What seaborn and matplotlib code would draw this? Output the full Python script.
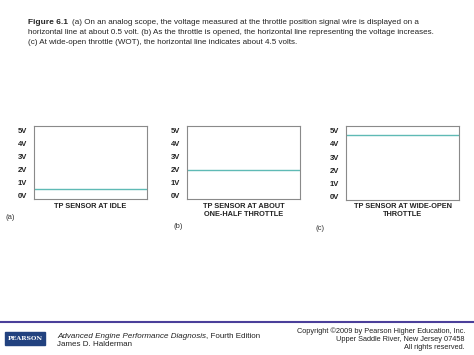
import matplotlib
matplotlib.use("Agg")
import matplotlib.pyplot as plt
import seaborn as sns
import pandas as pd

# data
panel_tags = ["(a)", "(b)", "(c)"]
panel_titles = ["TP SENSOR AT IDLE", "TP SENSOR AT ABOUT\nONE-HALF THROTTLE", "TP SENSOR AT WIDE-OPEN\nTHROTTLE"]
volts = [0.5, 2.0, 4.7]
sweep = [0, 1]
ytick_vals = [0, 1, 2, 3, 4, 5]
ytick_labels = ["0V", "1V", "2V", "3V", "4V", "5V"]

caption_lines = [
    "(a) On an analog scope, the voltage measured at the throttle position signal wire is displayed on a",
    "horizontal line at about 0.5 volt. (b) As the throttle is opened, the horizontal line representing the voltage increases.",
    "(c) At wide-open throttle (WOT), the horizontal line indicates about 4.5 volts.",
]

sns.set_style("white")
plt.rcParams['font.family'] = ['Liberation Sans', 'DejaVu Sans']

W, H = 474, 355
fig = plt.figure(figsize=(W / 100, H / 100), dpi=100)

def px(l, t, r, b):
    return [l / W, 1 - b / H, (r - l) / W, (b - t) / H]

# caption
fig.text(28 / W, 1 - 23 / H, "Figure 6.1", fontsize=6, fontweight="bold", va="center")
fig.text(72 / W, 1 - 23 / H, caption_lines[0], fontsize=5.8, va="center", color="#222222")
fig.text(28 / W, 1 - 33 / H, caption_lines[1], fontsize=5.8, va="center", color="#222222")
fig.text(28 / W, 1 - 43 / H, caption_lines[2], fontsize=5.8, va="center", color="#222222")

boxes = [(34, 126, 147, 199), (187, 126, 300, 199), (346, 126, 459, 200)]
tag_pos = [(5, 218), (173, 226), (316, 228)]

for i in range(3):
    ax = fig.add_axes(px(*boxes[i]))
    df = pd.DataFrame({"t": sweep, "v": [volts[i]] * len(sweep)})
    sns.lineplot(data=df, x="t", y="v", ax=ax, color="#5fbab5", linewidth=1.0)
    ax.set_xlim(0, 1)
    ax.set_ylim(-0.25, 5.35)
    ax.set_xticks([])
    ax.set_yticks(ytick_vals)
    ax.set_yticklabels(ytick_labels, fontsize=5.5, fontweight="bold", color="#222222")
    ax.tick_params(axis="y", length=0, pad=5)
    ax.set_xlabel("")
    ax.set_ylabel("")
    for s in ax.spines.values():
        s.set_color("#8a8a8a")
        s.set_linewidth(0.8)
    cx = (boxes[i][0] + boxes[i][2]) / 2
    fig.text(cx / W, 1 - 203.5 / H, panel_titles[i], fontsize=5.3, fontweight="bold",
             ha="center", va="top", linespacing=1.2, color="#222222")
    fig.text(tag_pos[i][0] / W, 1 - tag_pos[i][1] / H, panel_tags[i], fontsize=5.5,
             va="center", color="#333333")

# footer
fig.add_artist(plt.Line2D([0, 1], [1 - 322 / H, 1 - 322 / H], color="#4b3f9a", linewidth=1.5))
fig.add_artist(plt.Rectangle((5 / W, 1 - 345 / H), 40 / W, 13 / H, color="#22427f"))
fig.text(25 / W, 1 - 338.5 / H, "PEARSON", fontsize=4.5, color="white", fontweight="bold",
         ha="center", va="center", family="DejaVu Serif")
book = fig.text(57 / W, 1 - 336 / H, "Advanced Engine Performance Diagnosis", fontsize=5.8,
                style="italic", va="center", color="#222222")
fig.canvas.draw()
bx = book.get_window_extent().x1
fig.text(bx / W, 1 - 336 / H, ", Fourth Edition", fontsize=5.8, va="center", color="#222222")
fig.text(57 / W, 1 - 344 / H, "James D. Halderman", fontsize=5.8, va="center", color="#222222")
fig.text(465 / W, 1 - 339.5 / H, "Copyright \u00a92009 by Pearson Higher Education, Inc.\nUpper Saddle River, New Jersey 07458\nAll rights reserved.",
         fontsize=5.3, ha="right", va="center", linespacing=1.2, color="#222222")

fig.savefig("out.png", dpi=100)
